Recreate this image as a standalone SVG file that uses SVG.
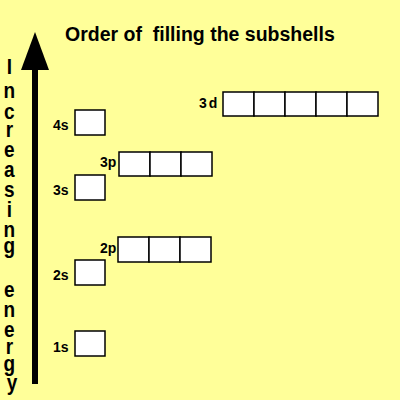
<svg xmlns="http://www.w3.org/2000/svg" width="400" height="400" viewBox="0 0 400 400">
<style>
.t{font-family:"Liberation Sans",Arial,sans-serif;font-weight:bold;fill:#000}
.ax{font-size:19px;text-anchor:middle}
.lb{font-size:14px}
.box{fill:#fff;stroke:#000;stroke-width:1.5}
</style>
<rect x="0" y="0" width="400" height="400" fill="#FFFF99"/>
<text class="t" x="65" y="41" font-size="19.5" xml:space="preserve" style="white-space:pre">Order of  filling the subshells</text>
<g id="axis">
<rect x="32" y="60" width="6" height="324" fill="#000"/>
<polygon points="35,32 21,70 49,70" fill="#000"/>
</g>
<g id="axis-label">
<text class="t ax" transform="scale(1,1.15)">
<tspan x="12" y="64.3">I</tspan>
<tspan x="12" y="85.2">n</tspan>
<tspan x="12" y="103.5">c</tspan>
<tspan x="12" y="119.1">r</tspan>
<tspan x="12" y="136.5">e</tspan>
<tspan x="12" y="153.9">a</tspan>
<tspan x="12" y="171.3">s</tspan>
<tspan x="12" y="188.7">i</tspan>
<tspan x="12" y="206.1">n</tspan>
<tspan x="12" y="220">g</tspan>
<tspan x="12" y="258.3">e</tspan>
<tspan x="12" y="275.7">n</tspan>
<tspan x="12" y="293">e</tspan>
<tspan x="12" y="307.8">r</tspan>
<tspan x="12" y="322.6">g</tspan>
<tspan x="12" y="339.1">y</tspan>
</text>
</g>
<g id="s1"><text class="t lb" x="53" y="352">1s</text><rect class="box" x="75" y="331" width="30" height="25"/></g>
<g id="s2"><text class="t lb" x="53" y="280">2s</text><rect class="box" x="75" y="260" width="30" height="25"/></g>
<g id="p2"><text class="t lb" x="100" y="253">2p</text>
<rect class="box" x="118" y="237" width="31" height="25"/><rect class="box" x="149" y="237" width="31" height="25"/><rect class="box" x="180" y="237" width="31" height="25"/></g>
<g id="s3"><text class="t lb" x="53" y="195">3s</text><rect class="box" x="75" y="175" width="30" height="25"/></g>
<g id="p3"><text class="t lb" x="100" y="167">3p</text>
<rect class="box" x="119" y="152" width="31" height="24"/><rect class="box" x="150" y="152" width="31" height="24"/><rect class="box" x="181" y="152" width="31" height="24"/></g>
<g id="s4"><text class="t lb" x="53" y="130">4s</text><rect class="box" x="75" y="110" width="30" height="25"/></g>
<g id="d3"><text class="t lb" x="199" y="108" letter-spacing="2">3d</text>
<rect class="box" x="223" y="92" width="31" height="24"/><rect class="box" x="254" y="92" width="31" height="24"/><rect class="box" x="285" y="92" width="31" height="24"/><rect class="box" x="316" y="92" width="31" height="24"/><rect class="box" x="347" y="92" width="31" height="24"/></g>
</svg>
